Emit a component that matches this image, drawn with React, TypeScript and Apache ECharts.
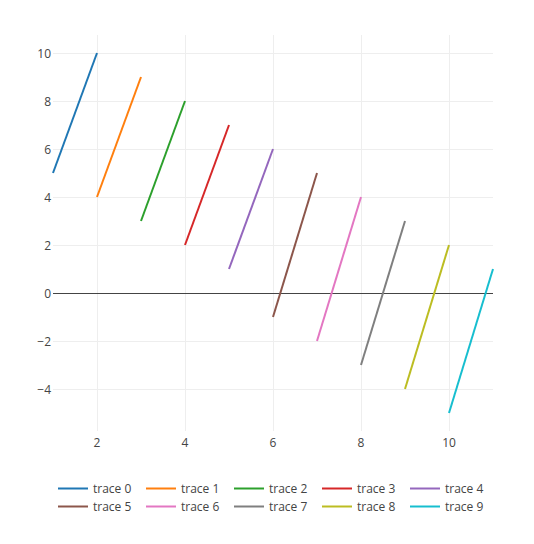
import { useEffect, useRef } from "react";
import * as echarts from "echarts";

// each trace is a two-point segment: [x0, y0] -> [x1, y1]
const traceNames = ["trace 0", "trace 1", "trace 2", "trace 3", "trace 4", "trace 5", "trace 6", "trace 7", "trace 8", "trace 9"];
const startX = [1, 2, 3, 4, 5, 6, 7, 8, 9, 10];
const endX = [2, 3, 4, 5, 6, 7, 8, 9, 10, 11];
const startY = [5, 4, 3, 2, 1, -1, -2, -3, -4, -5];
const endY = [10, 9, 8, 7, 6, 5, 4, 3, 2, 1];
const colors = ["#1f77b4", "#ff7f0e", "#2ca02c", "#d62728", "#9467bd", "#8c564b", "#e377c2", "#7f7f7f", "#bcbd22", "#17becf"];

const FONT = '"Open Sans", verdana, arial, sans-serif';

export default function App() {
  const ref = useRef<HTMLDivElement>(null);

  useEffect(() => {
    if (!ref.current) return;
    const chart = echarts.init(ref.current, undefined, { renderer: "svg" });
    const series: any[] = traceNames.map((name, i) => ({
      name,
      type: "line",
      data: [[startX[i], startY[i]], [endX[i], endY[i]]],
      symbol: "none",
      lineStyle: { width: 2, color: colors[i] },
      itemStyle: { color: colors[i] },
      z: 3,
    }));
    // zero line
    series[0].markLine = {
      silent: true,
      symbol: "none",
      label: { show: false },
      lineStyle: { color: "#444", width: 1, type: "solid" },
      data: [{ yAxis: 0 }],
      z: 2,
    };
    chart.setOption({
      animation: false,
      textStyle: { fontFamily: FONT },
      grid: { left: 53, right: 41, top: 35, bottom: 113 },
      xAxis: {
        type: "value",
        min: 1,
        max: 11,
        minInterval: 2,
        maxInterval: 2,
        axisLine: { show: false },
        axisTick: { show: false },
        axisLabel: { color: "#444", fontSize: 12, fontFamily: FONT, margin: 5, showMinLabel: false, showMaxLabel: false },
        splitLine: { show: true, showMinLine: false, showMaxLine: false, lineStyle: { color: "#eee", width: 1 } },
      },
      yAxis: {
        type: "value",
        min: -5.75,
        max: 10.75,
        minInterval: 2,
        maxInterval: 2,
        axisLine: { show: false },
        axisTick: { show: false },
        axisLabel: {
          color: "#444",
          fontSize: 12,
          fontFamily: FONT,
          margin: 2,
          showMinLabel: false,
          showMaxLabel: false,
          formatter: (v: number) => String(v).replace("-", "\u2212"),
        },
        splitLine: { show: true, showMinLine: false, showMaxLine: false, lineStyle: { color: "#eee", width: 1 } },
      },
      legend: {
        left: 53,
        top: 477,
        width: 470,
        itemWidth: 30,
        itemHeight: 14,
        itemGap: 5,
        icon: "path://M0,6L30,6L30,8L0,8Z",
        textStyle: { color: "#444", fontSize: 12, fontFamily: FONT, width: 48, lineHeight: 13 },
        data: traceNames,
      },
      series,
    });
    return () => chart.dispose();
  }, []);

  return <div ref={ref} style={{ width: 534, height: 544, margin: -8 }} />;
}
